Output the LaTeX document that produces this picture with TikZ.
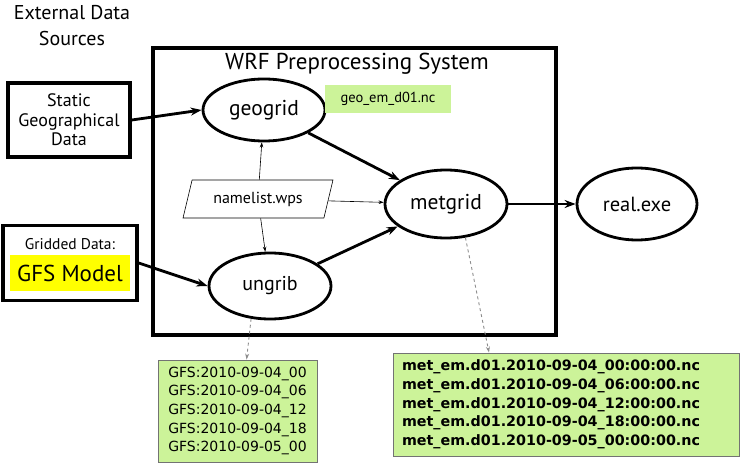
\documentclass[tikz,border=0pt]{standalone}
\usepackage{fontspec}
\setmainfont{PT Sans}
\newfontfamily\filefont{DejaVu Sans}
\usepackage{xcolor}
\definecolor{filegreen}{RGB}{204,243,153}
\definecolor{hilite}{RGB}{255,255,0}
\usepackage{tikz}
\usetikzlibrary{shapes.geometric, arrows.meta, positioning}

\begin{document}
\begin{tikzpicture}[x=1pt, y=-1pt,
  srcbox/.style={draw, line width=3.4pt, inner sep=0pt, align=center,
              font=\fontsize{18}{19.5}\selectfont},
  wpsbox/.style={draw, line width=3.4pt, inner sep=0pt,
              minimum width=403pt, minimum height=287pt},
  prog/.style={ellipse, draw, line width=2.8pt, inner sep=0pt,
              minimum width=122pt, minimum height=62pt,
              font=\fontsize{21.5}{24}\selectfont},
  inbox/.style={trapezium, trapezium left angle=67, trapezium right angle=113,
              trapezium stretches=true, draw, line width=0.6pt, inner sep=0pt,
              minimum width=150pt, minimum height=38pt,
              font=\fontsize{16}{18}\selectfont},
  filebox/.style={fill=filegreen, draw=black!55, line width=0.8pt,
              inner sep=0pt, align=left,
              font=\filefont\fontsize{14}{18.7}\selectfont},
  flow/.style={-{Stealth[length=11pt, width=8pt]}, line width=2.8pt},
  ctl/.style={-{Stealth[length=5pt, width=3.5pt]}, line width=0.6pt},
  dump/.style={-{Stealth[length=6pt, width=4pt]}, dashed, black!45, line width=0.9pt}
]
  \useasboundingbox (0,0) rectangle (740,468);

  % ── External sources ──
  \node[align=center, font=\fontsize{20}{26}\selectfont] (extlbl) at (72,26)
        {External Data\\Sources};
  \node[srcbox, minimum width=122pt, minimum height=74pt] (static) at (69,120)
        {Static\\Geographical\\Data};
  \node[srcbox, minimum width=134pt, minimum height=75pt] (gridded) at (70,263) {};
  \node[font=\fontsize{15.5}{17}\selectfont] (gridlbl) at (70,244) {Gridded Data:};
  \node[fill=hilite, inner sep=0pt, minimum width=120pt, minimum height=36pt,
        font=\fontsize{23}{26}\selectfont] (gfs) at (70,273) {GFS Model};

  % ── WPS ──
  \node[wpsbox] (wps) at (354.5,191.5) {};
  \node[font=\fontsize{23}{26}\selectfont] (wpslbl) at (357,64) {WRF Preprocessing System};
  \node[prog] (geogrid) at (264,110) {geogrid};
  \node[prog, minimum height=66pt, font=\fontsize{20}{23}\selectfont] (ungrib) at (270,286) {ungrib};
  \node[prog, minimum height=68pt] (metgrid) at (446,204) {metgrid};
  \node[inbox] (namelist) at (258,199) {namelist.wps};
  \node[fill=filegreen, inner sep=0pt, minimum width=126pt, minimum height=28pt,
        font=\fontsize{14.5}{16}\selectfont] (geoem) at (388,99) {geo\_em\_d01.nc};

  % ── Output ──
  \node[prog, minimum width=120pt, minimum height=72pt, font=\fontsize{20.5}{23}\selectfont]
        (real) at (637,204) {real.exe};

  % ── Intermediate files ──
  \node[filebox, minimum width=159pt, minimum height=102pt] (gfsfiles) at (237.5,411)
        {GFS:2010-09-04\_00\\GFS:2010-09-04\_06\\GFS:2010-09-04\_12\\%
         GFS:2010-09-04\_18\\GFS:2010-09-05\_00};
  \node[filebox, text width=328pt, inner xsep=9pt, minimum height=103pt,
        font=\filefont\bfseries\fontsize{14.3}{18.7}\selectfont] (metfiles) at (566,404.5)
        {met\_em.d01.2010-09-04\_00:00:00.nc\\met\_em.d01.2010-09-04\_06:00:00.nc\\%
         met\_em.d01.2010-09-04\_12:00:00.nc\\met\_em.d01.2010-09-04\_18:00:00.nc\\%
         met\_em.d01.2010-09-05\_00:00:00.nc};

  % ── Arrows ──
  \draw[flow] (static.east) -- (geogrid.west);
  \draw[flow] (gridded.east) -- (ungrib.west);
  \draw[flow] (geogrid) -- (metgrid);
  \draw[flow] (ungrib) -- (metgrid);
  \draw[flow] (metgrid) -- (real);
  \foreach \n in {geogrid,ungrib,metgrid}
    \draw[ctl] (namelist) -- (\n);
  \draw[dump] (ungrib.-120) -- (gfsfiles.80);
  \draw[dump] (metgrid.-60) -- (metfiles.146);

\end{tikzpicture}
\end{document}
